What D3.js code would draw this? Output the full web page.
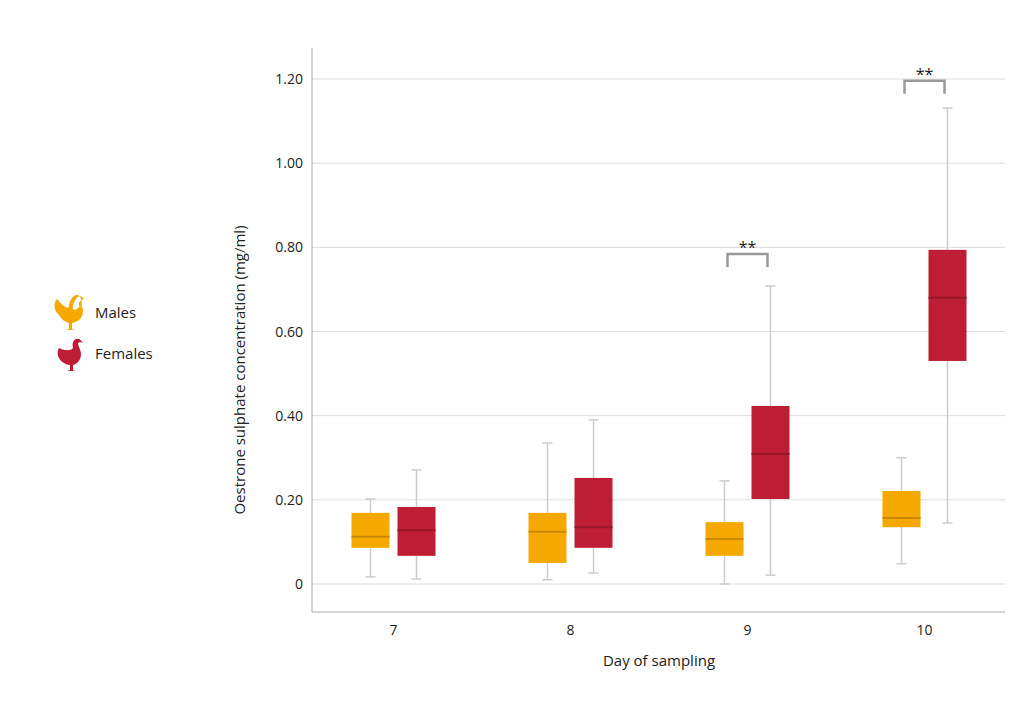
<!DOCTYPE html>
<html><head><meta charset="utf-8">
<script src="https://cdn.jsdelivr.net/npm/d3@7"></script>
<style>body{margin:0;background:#fff}text{font-family:"Open Sans","Liberation Sans",sans-serif;fill:#222}</style>
</head><body><svg id="c" width="1024" height="722"></svg>
<script>
const days = ["7","8","9","10"];
const groups = ["Males","Females"];
const colors = ["#F5A800","#BE1E35"];
const medColors = ["#C88900","#96182A"];
// [low, q1, median, q3, high]
const males = [[0.017,0.086,0.112,0.169,0.202],[0.010,0.050,0.124,0.169,0.335],[0.000,0.067,0.107,0.147,0.245],[0.048,0.135,0.157,0.221,0.300]];
const females = [[0.012,0.067,0.128,0.183,0.271],[0.026,0.086,0.135,0.252,0.390],[0.021,0.202,0.309,0.423,0.708],[0.145,0.530,0.680,0.794,1.131]];
const yTicks = [0,0.2,0.4,0.6,0.8,1.0,1.2];
const sig = [{day:"9",y:0.784,label:"**"},{day:"10",y:1.196,label:"**"}];

const svg = d3.select("#c");
const L=312,R=1005,T=48,B=612;
const x = d3.scaleBand().domain(days).range([305,1013]);
const y = d3.scaleLinear().domain([0,1.2]).range([584,79]);
const off = [-23,23], bw=38;

// grid
svg.append("g").selectAll("line").data(yTicks).join("line")
 .attr("x1",L).attr("x2",R).attr("y1",d=>y(d)).attr("y2",d=>y(d)).attr("stroke","#ddd");
// axes lines
svg.append("line").attr("x1",L).attr("x2",L).attr("y1",T).attr("y2",B).attr("stroke","#aaa");
svg.append("line").attr("x1",L).attr("x2",R).attr("y1",B).attr("y2",B).attr("stroke","#aaa");
svg.append("g").selectAll("text").data(yTicks).join("text")
 .attr("x",303).attr("y",d=>y(d)+5).attr("text-anchor","end").attr("font-size",14)
 .text(d=>d===0?"0":d.toFixed(2));
svg.append("g").selectAll("text").data(days).join("text")
 .attr("x",d=>x(d)+x.bandwidth()/2).attr("y",635).attr("text-anchor","middle").attr("font-size",14).text(d=>d);
svg.append("text").attr("x",659).attr("y",666).attr("text-anchor","middle").attr("font-size",15).text("Day of sampling");
svg.append("text").attr("transform","translate(245,370) rotate(-90)").attr("text-anchor","middle").attr("font-size",15).text("Oestrone sulphate concentration (mg/ml)");

[males,females].forEach((data,gi)=>{
  const g = svg.append("g");
  data.forEach((v,i)=>{
    const cx = x(days[i])+x.bandwidth()/2+off[gi];
    g.append("line").attr("x1",cx).attr("x2",cx).attr("y1",y(v[0])).attr("y2",y(v[4])).attr("stroke","#ccc").attr("stroke-width",1.5);
    [v[0],v[4]].forEach(e=>g.append("line").attr("x1",cx-5).attr("x2",cx+5).attr("y1",y(e)).attr("y2",y(e)).attr("stroke","#ccc").attr("stroke-width",1.5));
    g.append("rect").attr("x",cx-bw/2).attr("width",bw).attr("y",y(v[3])).attr("height",y(v[1])-y(v[3])).attr("fill",colors[gi]);
    g.append("line").attr("x1",cx-bw/2).attr("x2",cx+bw/2).attr("y1",y(v[2])).attr("y2",y(v[2])).attr("stroke",medColors[gi]).attr("stroke-width",2);
  });
});
sig.forEach(s=>{
  const c = x(s.day)+x.bandwidth()/2;
  const yy=y(s.y);
  svg.append("path").attr("d",`M${c-20},${yy+13}V${yy}H${c+20}V${yy+13}`).attr("fill","none").attr("stroke","#999").attr("stroke-width",2.5);
  svg.append("text").attr("x",c).attr("y",yy-1).attr("text-anchor","middle").attr("font-size",16).text(s.label);
});
// legend
const rooster="M-14,-14 C-18,-10 -17,-2 -12,2 C-10,6 -6,9 -2,10 L-2,16 L-5,17 L3,17 L1,16 L1,10 C8,9 12,4 12,-2 C12,-6 10,-8 8,-6 C6,-4 4,-2 2,-4 C1,-8 4,-12 6,-16 C9,-18 12,-16 13,-14 L9,-12 C7,-9 8,-6 10,-6 C12,-10 10,-18 6,-18 C2,-18 -2,-12 -2,-6 C-6,-4 -10,-10 -14,-14Z";
const hen="M-12,-6 C-15,-2 -13,6 -7,9 C-4,11 -1,11 -1,11 L-1,16 L-4,17 L4,17 L2,16 L2,11 C7,10 10,5 10,0 C10,-4 7,-8 7,-11 C8,-12 11,-12 12,-11 C10,-14 8,-16 5,-15 C2,-14 1,-10 2,-6 C0,-3 -6,-3 -12,-6Z";
groups.forEach((gname,i)=>{
  const gy=[313,354][i];
  svg.append("path").attr("d",i?hen:rooster).attr("transform",`translate(71,${gy})`).attr("fill",colors[i]);
  svg.append("text").attr("x",95).attr("y",gy+5).attr("font-size",15).text(gname);
});
</script></body></html>
